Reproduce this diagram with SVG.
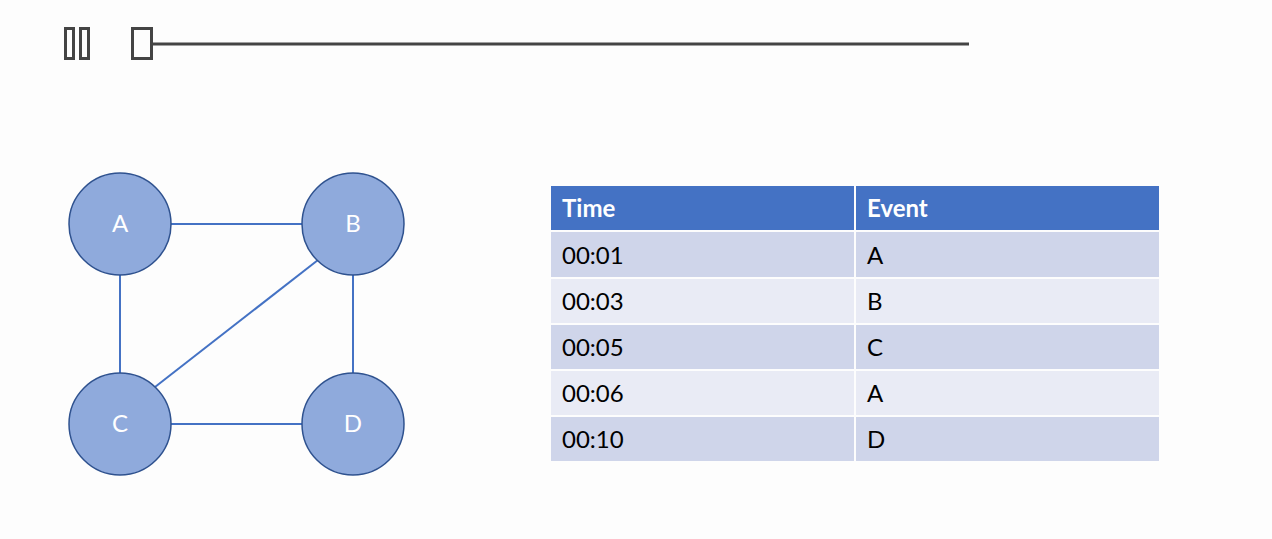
<svg xmlns="http://www.w3.org/2000/svg" width="1272" height="539" viewBox="0 0 1272 539">
<style>
.ctl{fill:none;stroke:#444;stroke-width:3}
.edge{stroke:#4472C4;stroke-width:2}
.node circle{fill:#8FAADC;stroke:#2F528F;stroke-width:1.5}
.node text{font-family:Lato,"Open Sans",sans-serif;font-size:24px;fill:#fff;text-anchor:middle}
.hd{fill:#4472C4}
.r1{fill:#CFD5EA}
.r2{fill:#E9EBF5}
.th{font-family:Lato,"Open Sans",sans-serif;font-size:24px;font-weight:bold;fill:#fff}
.td{font-family:Lato,"Open Sans",sans-serif;font-size:24px;fill:#000}
</style>
<rect width="1272" height="539" fill="#FDFDFD"/>
<g id="controls">
<rect class="ctl" x="65.5" y="28.5" width="8" height="30"/>
<rect class="ctl" x="80.5" y="28.5" width="8" height="30"/>
<line x1="152" y1="44" x2="969" y2="44" stroke="#444" stroke-width="3"/>
<rect class="ctl" x="132.5" y="28.5" width="19" height="30"/>
</g>
<g id="connectors">
<line class="edge" x1="171" y1="224" x2="302" y2="224"/>
<line class="edge" x1="120" y1="275" x2="120" y2="373"/>
<line class="edge" x1="353" y1="275" x2="353" y2="373"/>
<line class="edge" x1="171" y1="424" x2="302" y2="424"/>
<line class="edge" x1="155" y1="387" x2="318" y2="260"/>
</g>
<g id="node-A" class="node"><circle cx="120" cy="224" r="51"/><text x="120" y="232">A</text></g>
<g id="node-B" class="node"><circle cx="353" cy="224" r="51"/><text x="353" y="232">B</text></g>
<g id="node-C" class="node"><circle cx="120" cy="424" r="51"/><text x="120" y="432">C</text></g>
<g id="node-D" class="node"><circle cx="353" cy="424" r="51"/><text x="353" y="432">D</text></g>
<g id="table">
<rect class="hd" x="551" y="186" width="303" height="44"/>
<rect class="hd" x="856" y="186" width="303" height="44"/>
<rect class="r1" x="551" y="232" width="303" height="45"/>
<rect class="r1" x="856" y="232" width="303" height="45"/>
<rect class="r2" x="551" y="279" width="303" height="44"/>
<rect class="r2" x="856" y="279" width="303" height="44"/>
<rect class="r1" x="551" y="325" width="303" height="44"/>
<rect class="r1" x="856" y="325" width="303" height="44"/>
<rect class="r2" x="551" y="371" width="303" height="44"/>
<rect class="r2" x="856" y="371" width="303" height="44"/>
<rect class="r1" x="551" y="417" width="303" height="44"/>
<rect class="r1" x="856" y="417" width="303" height="44"/>
<text class="th" x="562" y="217">Time</text>
<text class="th" x="867" y="217">Event</text>
<text class="td" x="562" y="264">00:01</text><text class="td" x="867" y="264">A</text>
<text class="td" x="562" y="310">00:03</text><text class="td" x="867" y="310">B</text>
<text class="td" x="562" y="356">00:05</text><text class="td" x="867" y="356">C</text>
<text class="td" x="562" y="402">00:06</text><text class="td" x="867" y="402">A</text>
<text class="td" x="562" y="448">00:10</text><text class="td" x="867" y="448">D</text>
</g>
</svg>
